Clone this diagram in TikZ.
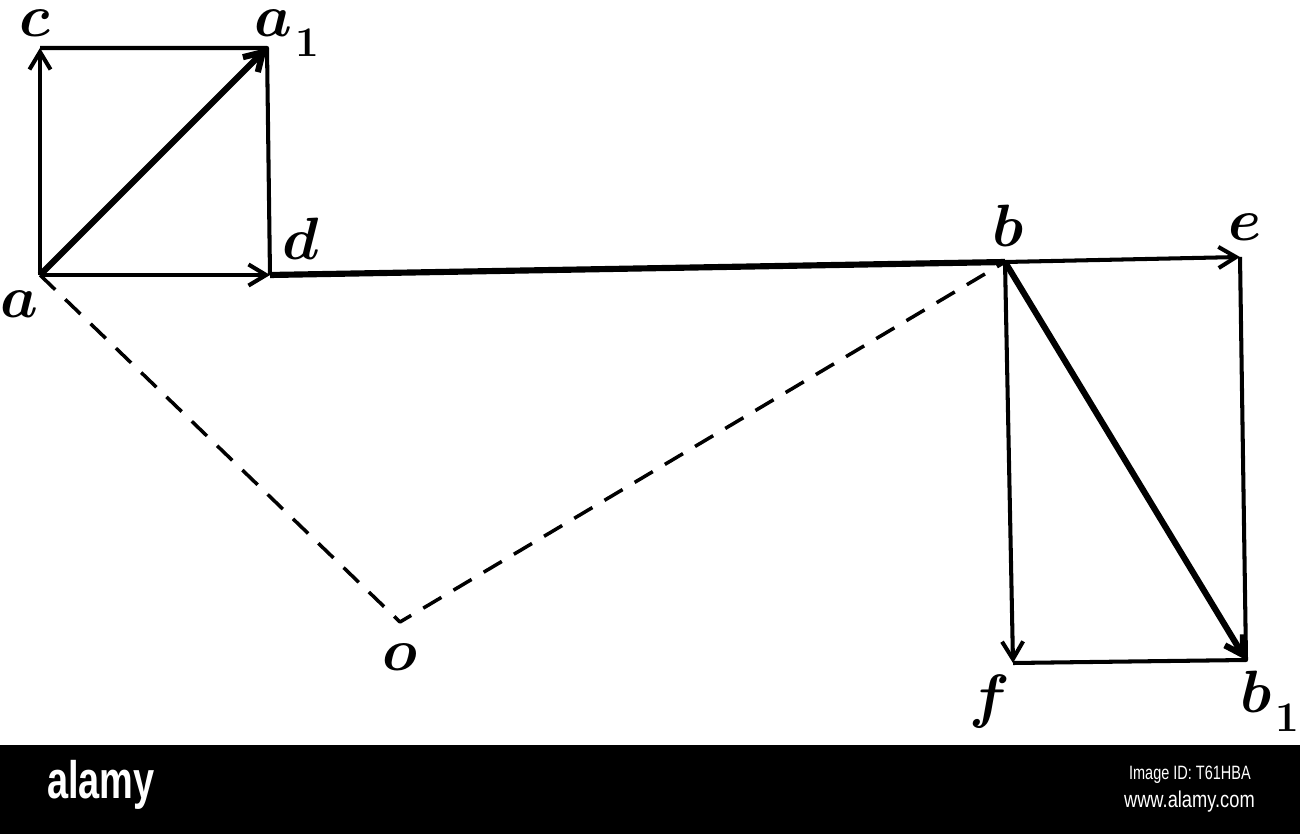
\documentclass[tikz,border=0pt]{standalone}
\usepackage{fix-cm}
\usepackage{fontspec}
\newfontfamily\marksans{Liberation Sans}
\usetikzlibrary{arrows.meta}

\newcommand{\idx}{\kern2pt\raisebox{-11pt}{\fontsize{24}{24}\selectfont\bfseries 1}}

\tikzset{
  vec/.style={line width=2.3pt, ->},
  heavyvec/.style={line width=3.5pt, ->},
  side/.style={line width=2.3pt},
  heavy/.style={line width=3.5pt},
  dashline/.style={line width=2pt, dash pattern=on 12pt off 8pt},
  lbl/.style={font=\fontsize{34}{38}\selectfont\boldmath, inner sep=0pt},
  bandtext/.style={text=white, inner sep=0pt},
}

\begin{document}
\begin{tikzpicture}[x=0.02cm, y=-0.02cm, >={Straight Barb[length=10pt,width=12pt]}, line join=round]
    \useasboundingbox (0,0) rectangle (1300,834);

    % corner points
    \coordinate (a) at (40,275);
    \coordinate (c) at (40,48);
    \coordinate (a1) at (267,48);
    \coordinate (d) at (270,275);
    \coordinate (b) at (1005,262);
    \coordinate (e) at (1240,257);
    \coordinate (f) at (1013,663);
    \coordinate (b1) at (1246,660);
    \coordinate (o) at (400,622);

    % left parallelogram
    \draw[side] (c) -- (a1) -- (d);
    \draw[vec] (a) -- (c);
    \draw[vec] (a) -- (d);
    \draw[heavyvec] (a) -- (a1);
    \draw[heavy] (d) -- (b);

    % right parallelogram
    \draw[side] (e) -- (b1) -- (f);
    \draw[vec] (b) -- (e);
    \draw[vec] (b) -- (f);
    \draw[heavyvec] (b) -- (b1);

    \draw[dashline] (a) -- (o) -- (b);

    % letters
    \node[lbl] (la) at (19,304) {$a$};
    \node[lbl] (lc) at (35,23) {$c$};
    \node[lbl, anchor=base west] (la1) at (254,37) {$a$\idx};
    \node[lbl] (ld) at (301,239) {$d$};
    \node[lbl] (lb) at (1008,226) {$b$};
    \node[lbl] (le) at (1245,227) {$e$};
    \node[lbl] (lo) at (400,657) {$o$};
    \node[lbl] (lf) at (990,702) {$f$};
    \node[lbl, anchor=base west] (lb1) at (1240,712) {$b$\idx};

    % bottom band
    \fill[black] (0,745) rectangle (1300,834);
    \node[bandtext, font=\marksans\bfseries\fontsize{30}{32}\selectfont, xscale=0.72] (alamy) at (101,785) {alamy};
    \node[bandtext, font=\marksans\fontsize{11}{12}\selectfont, anchor=east, xscale=0.75] (imgid) at (1251,775) {Image ID: T61HBA};
    \node[bandtext, font=\marksans\fontsize{13}{14}\selectfont, anchor=east, xscale=0.8] (www) at (1255,802) {www.alamy.com};
\end{tikzpicture}
\end{document}
